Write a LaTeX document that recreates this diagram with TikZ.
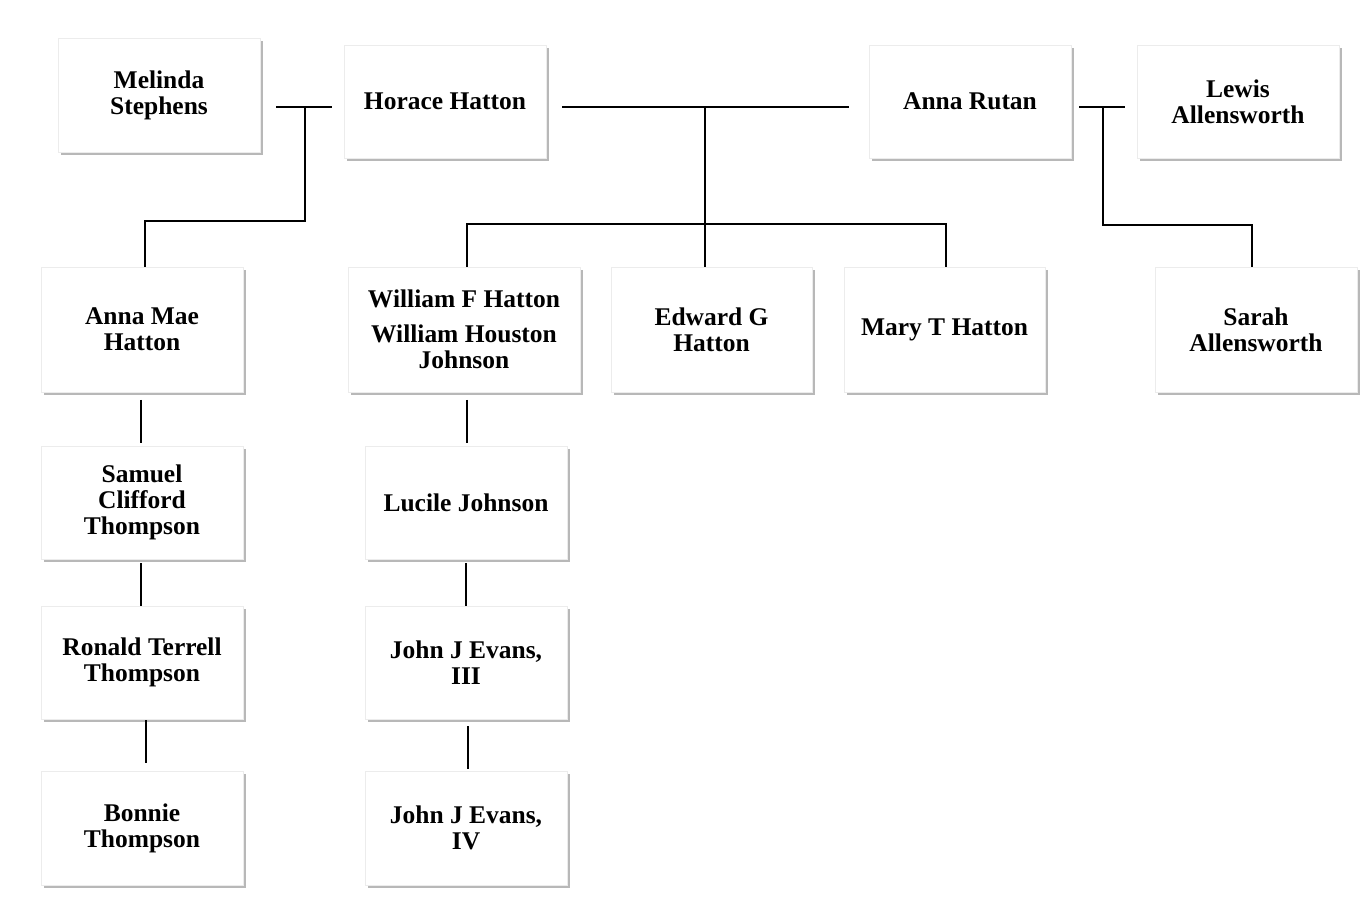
\documentclass[tikz,border=0pt]{standalone}
\usepackage{fontspec}
\setmainfont{Liberation Serif}
\usetikzlibrary{shadows}
\begin{document}
\begin{tikzpicture}[x=0.02cm,y=-0.02cm,
 pbox/.style={fill=white,draw=gray!15,line width=0.3pt,align=center,font=\bfseries\fontsize{14.5}{14.8}\selectfont,
  drop shadow={shadow xshift=1.5pt,shadow yshift=-1.5pt,fill=gray!70,opacity=0.8}},
 ln/.style={line width=0.8pt}]
\useasboundingbox (0,0) rectangle (1369,908);
\newcommand\pb[6]{\node[pbox,minimum width={(#4-#2)*0.02cm},minimum height={(#5-#3)*0.02cm}] (#1) at ({(#2+#4)/2},{(#3+#5)/2}) {#6};}
\pb{mel}{58}{38}{260}{152}{Melinda\\Stephens}
\pb{hor}{344}{45}{546}{158}{Horace Hatton}
\pb{ann}{869}{45}{1071}{158}{Anna Rutan}
\pb{lew}{1137}{45}{1339}{158}{Lewis\\Allensworth}
\pb{amae}{41}{267}{243}{392}{Anna Mae\\Hatton}
\pb{wil}{348}{267}{580}{392}{William F Hatton\\[5pt]William Houston\\Johnson}
\pb{edw}{611}{267}{812}{392}{Edward G\\Hatton}
\pb{mar}{844}{267}{1045}{392}{Mary T Hatton}
\pb{sar}{1155}{267}{1357}{392}{Sarah\\Allensworth}
\pb{sam}{41}{446}{243}{559}{Samuel\\Clifford\\Thompson}
\pb{luc}{365}{446}{567}{559}{Lucile Johnson}
\pb{ron}{41}{606}{243}{719}{Ronald Terrell\\Thompson}
\pb{j3}{365}{606}{567}{719}{John J Evans,\\III}
\pb{bon}{41}{771}{243}{885}{Bonnie\\Thompson}
\pb{j4}{365}{771}{567}{885}{John J Evans,\\IV}
% couple 1
\coordinate (c1a) at (276,107); \coordinate (c1b) at (332,107); \coordinate (c1m) at (305,107);
\coordinate (c1d) at (305,221); \coordinate (c1e) at (145,221); \coordinate (c1f) at (145,267);
\draw[ln] (c1a) -- (c1b); \draw[ln] (c1m) -- (c1d) -- (c1e) -- (c1f);
% couple 2
\coordinate (c2a) at (562,107); \coordinate (c2b) at (849,107); \coordinate (c2m) at (705,107);
\coordinate (c2d) at (705,267); \coordinate (c2l) at (467,224); \coordinate (c2r) at (946,224);
\coordinate (c2lb) at (467,267); \coordinate (c2rb) at (946,267);
\draw[ln] (c2a) -- (c2b); \draw[ln] (c2m) -- (c2d);
\draw[ln] (c2lb) -- (c2l) -- (c2r) -- (c2rb);
% couple 3
\coordinate (c3a) at (1079,107); \coordinate (c3b) at (1125,107); \coordinate (c3m) at (1103,107);
\coordinate (c3d) at (1103,225); \coordinate (c3e) at (1252,225); \coordinate (c3f) at (1252,267);
\draw[ln] (c3a) -- (c3b); \draw[ln] (c3m) -- (c3d) -- (c3e) -- (c3f);
% chains
\draw[ln] (141,400) coordinate (k1) -- (141,443) coordinate (k2);
\draw[ln] (141,563) coordinate (k3) -- (141,606) coordinate (k4);
\draw[ln] (146,720) coordinate (k5) -- (146,763) coordinate (k6);
\draw[ln] (467,400) coordinate (k7) -- (467,443) coordinate (k8);
\draw[ln] (466,563) coordinate (k9) -- (466,606) coordinate (k10);
\draw[ln] (468,726) coordinate (k11) -- (468,769) coordinate (k12);
\end{tikzpicture}
\end{document}
